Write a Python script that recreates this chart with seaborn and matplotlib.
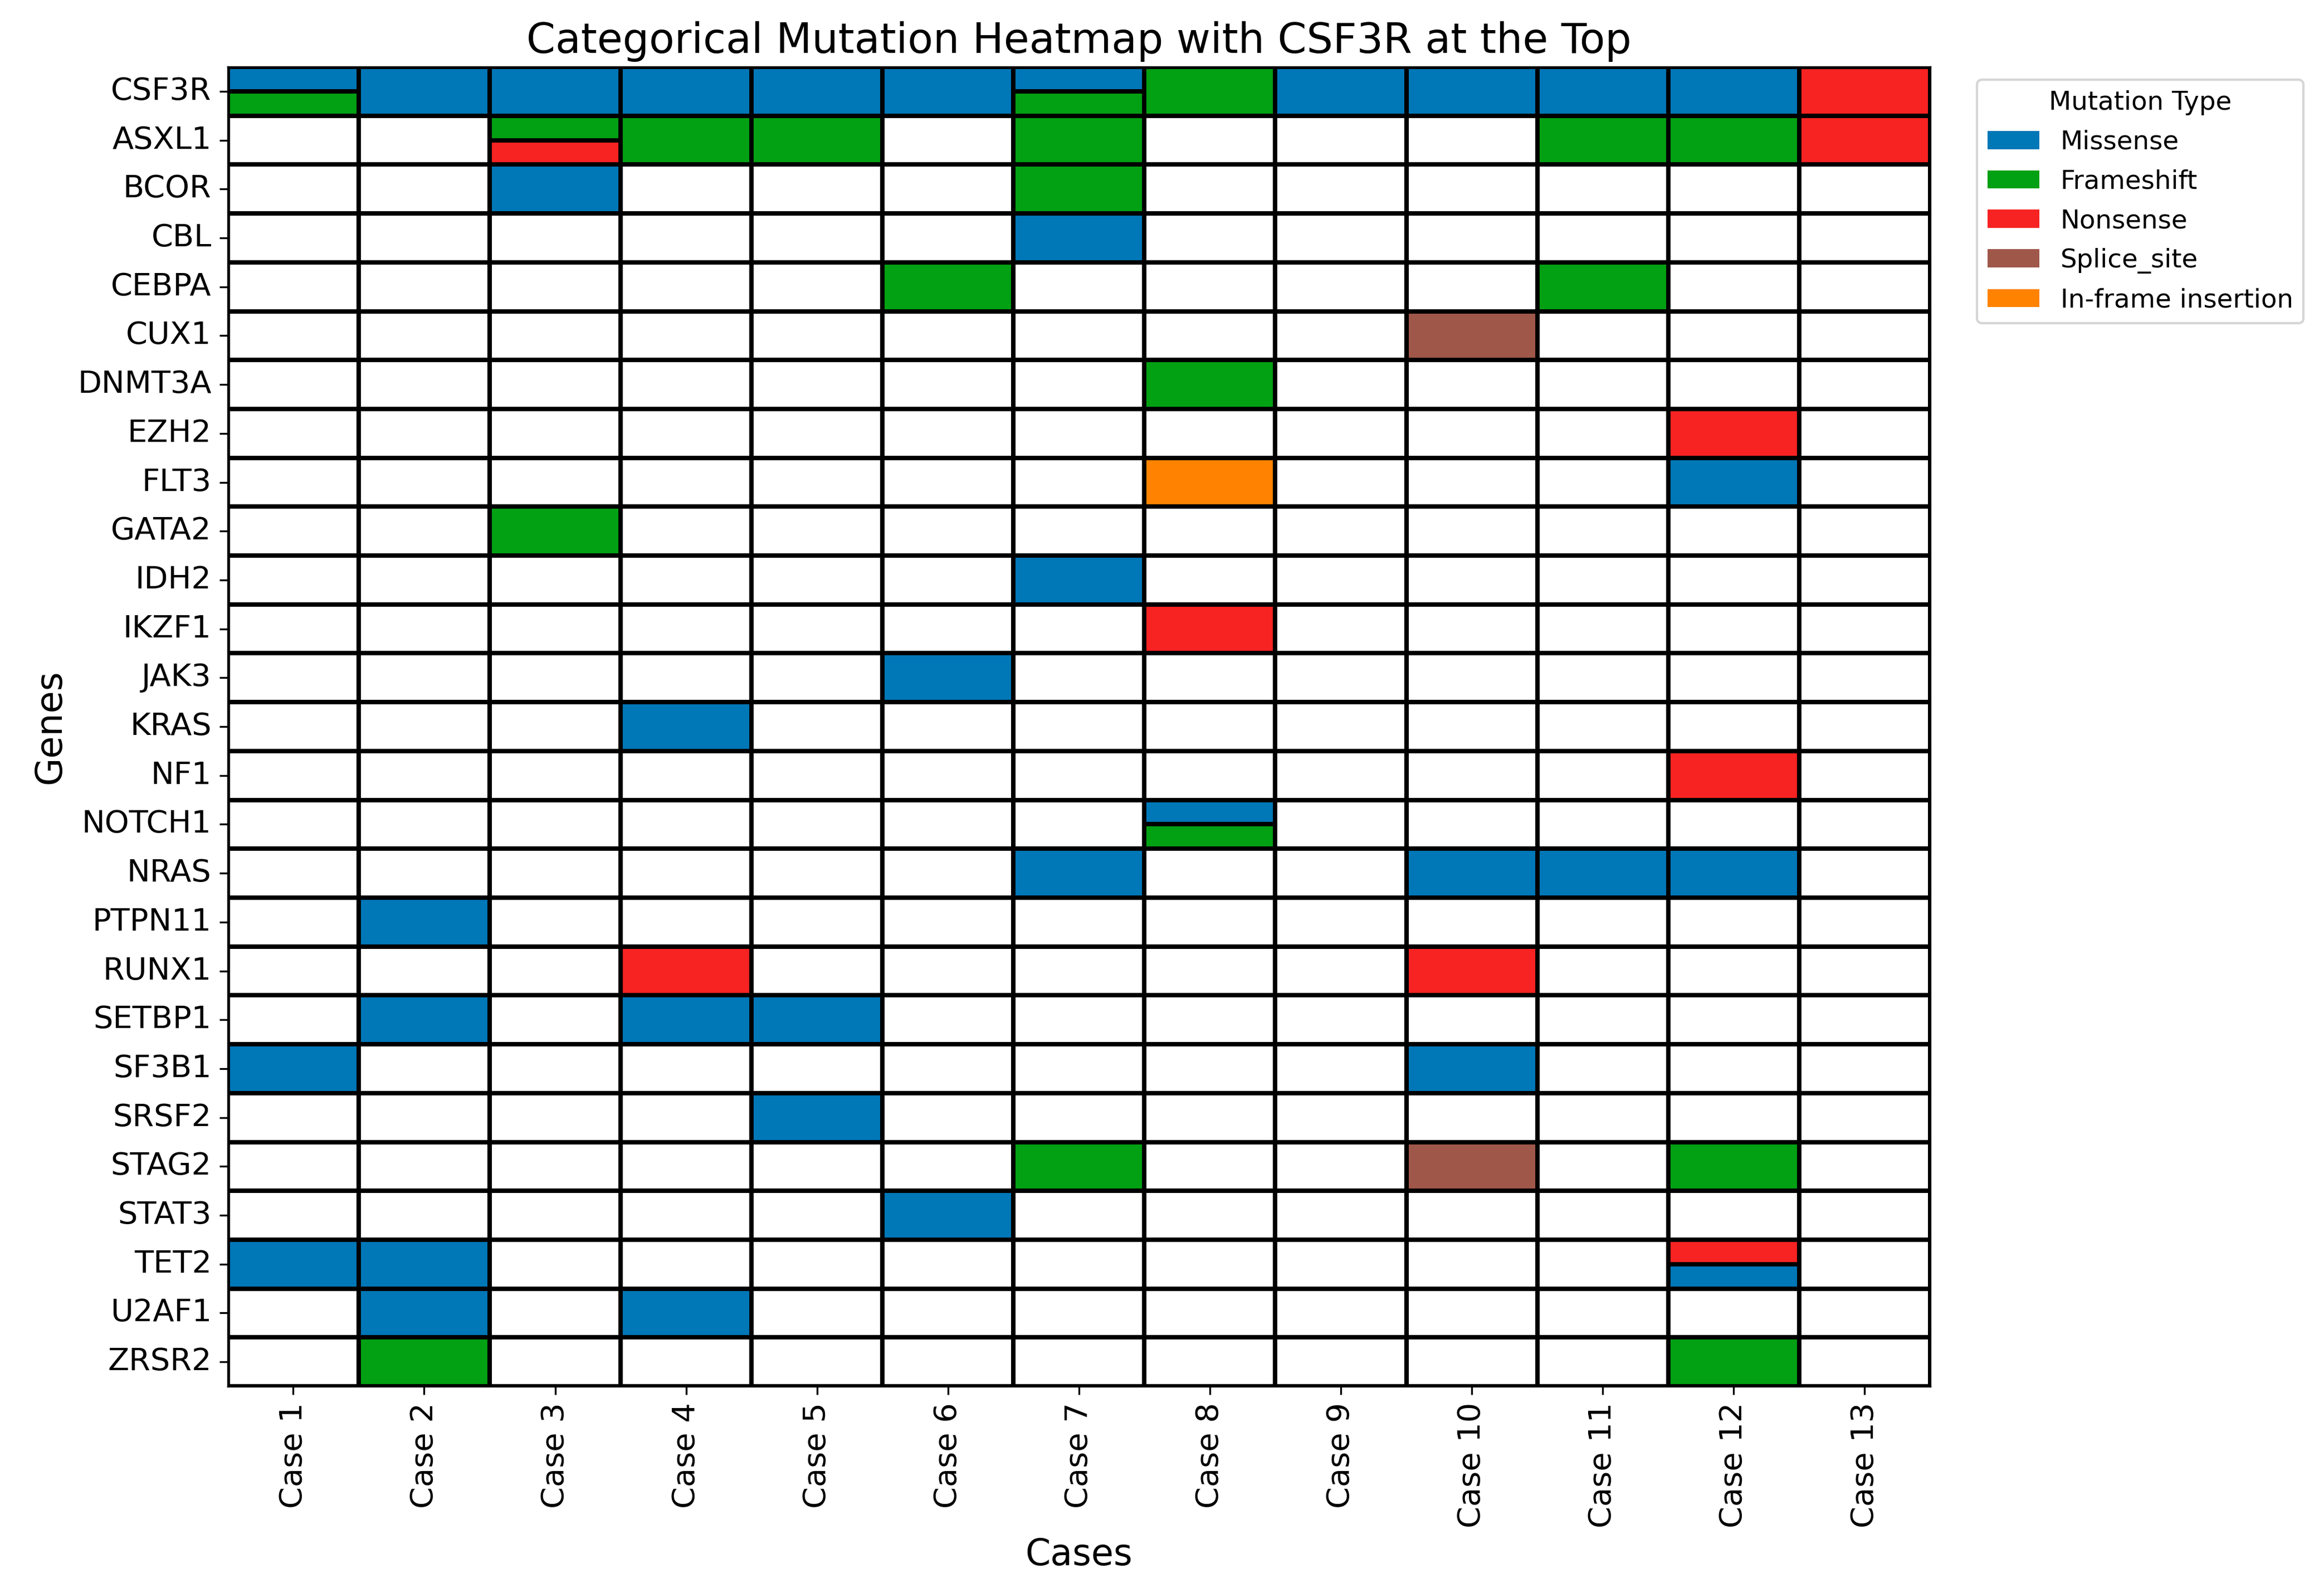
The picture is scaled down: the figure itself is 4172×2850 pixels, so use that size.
import numpy as np
import pandas as pd
import matplotlib
matplotlib.use('Agg')
import matplotlib.pyplot as plt
import seaborn as sns
from matplotlib.colors import ListedColormap
from matplotlib.patches import Patch

# genes (rows, CSF3R first) and cases (columns)
genes = ['CSF3R', 'ASXL1', 'BCOR', 'CBL', 'CEBPA', 'CUX1', 'DNMT3A', 'EZH2', 'FLT3',
         'GATA2', 'IDH2', 'IKZF1', 'JAK3', 'KRAS', 'NF1', 'NOTCH1', 'NRAS', 'PTPN11',
         'RUNX1', 'SETBP1', 'SF3B1', 'SRSF2', 'STAG2', 'STAT3', 'TET2', 'U2AF1', 'ZRSR2']
cases = ['Case %d' % i for i in range(1, 14)]

mut_types = ['Missense', 'Frameshift', 'Nonsense', 'Splice_site', 'In-frame insertion']
type_colors = ['#0077B7', '#02A013', '#F72222', '#9F574A', '#FF8200']

# one entry per mutation: gene, case number, type (order inside a cell = top to bottom)
mut_gene = ['CSF3R'] * 15 + ['ASXL1'] * 8 + ['BCOR'] * 2 + ['CBL'] + ['CEBPA'] * 2 + \
    ['CUX1', 'DNMT3A', 'EZH2', 'FLT3', 'FLT3', 'GATA2', 'IDH2', 'IKZF1', 'JAK3', 'KRAS', 'NF1',
     'NOTCH1', 'NOTCH1', 'NRAS', 'NRAS', 'NRAS', 'NRAS', 'PTPN11', 'RUNX1', 'RUNX1',
     'SETBP1', 'SETBP1', 'SETBP1', 'SF3B1', 'SF3B1', 'SRSF2', 'STAG2', 'STAG2', 'STAG2',
     'STAT3', 'TET2', 'TET2', 'TET2', 'TET2', 'U2AF1', 'U2AF1', 'ZRSR2', 'ZRSR2']
mut_case = [1, 1, 2, 3, 4, 5, 6, 7, 7, 8, 9, 10, 11, 12, 13,
            3, 3, 4, 5, 7, 11, 12, 13,
            3, 7, 7, 6, 11,
            10, 8, 12, 8, 12, 3, 7, 8, 6, 4, 12,
            8, 8, 7, 10, 11, 12, 2, 4, 10,
            2, 4, 5, 1, 10, 5, 7, 10, 12,
            6, 1, 2, 12, 12, 2, 4, 2, 12]
mut_kind = ['Missense', 'Frameshift', 'Missense', 'Missense', 'Missense', 'Missense', 'Missense',
            'Missense', 'Frameshift', 'Frameshift', 'Missense', 'Missense', 'Missense', 'Missense',
            'Nonsense',
            'Frameshift', 'Nonsense', 'Frameshift', 'Frameshift', 'Frameshift', 'Frameshift',
            'Frameshift', 'Nonsense',
            'Missense', 'Frameshift', 'Missense', 'Frameshift', 'Frameshift',
            'Splice_site', 'Frameshift', 'Nonsense', 'In-frame insertion', 'Missense',
            'Frameshift', 'Missense', 'Nonsense', 'Missense', 'Missense', 'Nonsense',
            'Missense', 'Frameshift', 'Missense', 'Missense', 'Missense', 'Missense',
            'Missense', 'Nonsense', 'Nonsense',
            'Missense', 'Missense', 'Missense', 'Missense', 'Missense', 'Missense',
            'Frameshift', 'Splice_site', 'Frameshift',
            'Missense', 'Missense', 'Missense', 'Nonsense', 'Missense', 'Missense', 'Missense',
            'Frameshift', 'Frameshift']

df = pd.DataFrame({'gene': mut_gene, 'case': mut_case, 'type': mut_kind})
df['case'] = 'Case ' + df['case'].astype(str)
df['slot'] = df.groupby(['gene', 'case']).cumcount()
df['n'] = df.groupby(['gene', 'case'])['type'].transform('size')

# code matrix for cells with a single mutation (0 = none / split cell)
code = pd.DataFrame(0, index=genes, columns=cases)
for _, r in df[df['n'] == 1].iterrows():
    code.loc[r['gene'], r['case']] = mut_types.index(r['type']) + 1

fig = plt.figure(figsize=(4172 / 300, 2850 / 300), dpi=300)
ax = fig.add_axes([0.098, 0.127, 3056 / 4172, 2368 / 2850])

cmap = ListedColormap(['white'] + type_colors)
sns.heatmap(code, cmap=cmap, vmin=-0.5, vmax=5.5, cbar=False, linewidths=1.9,
            linecolor='black', ax=ax)

# cells with two mutations: stacked halves
split = df[df['n'] > 1]
for _, r in split.iterrows():
    xi = cases.index(r['case'])
    yi = genes.index(r['gene'])
    h = 1.0 / r['n']
    ax.bar(xi + 0.5, h, bottom=yi + r['slot'] * h, width=1.0,
           color=type_colors[mut_types.index(r['type'])], edgecolor='black', linewidth=1.9)

ax.set_xlim(0, len(cases))
ax.set_ylim(len(genes), 0)
for s in ax.spines.values():
    s.set_visible(True)
    s.set_linewidth(0.8)

ax.set_xticks(np.arange(len(cases)) + 0.5)
ax.set_xticklabels(cases, rotation=90, fontsize=13.4)
ax.set_yticks(np.arange(len(genes)) + 0.5)
ax.set_yticklabels(genes, rotation=0, fontsize=13.4)
ax.set_xlabel('Cases', fontsize=15.6)
ax.set_ylabel('Genes', fontsize=15.6)
ax.set_title('Categorical Mutation Heatmap with CSF3R at the Top', fontsize=17.9)

handles = [Patch(facecolor=c, label=t) for t, c in zip(mut_types, type_colors)]
ax.legend(handles=handles, title='Mutation Type', bbox_to_anchor=(1.02, 1), loc='upper left',
          fontsize=11.2, title_fontsize=11.2, labelspacing=0.55)

fig.savefig('out.png', dpi=300)
